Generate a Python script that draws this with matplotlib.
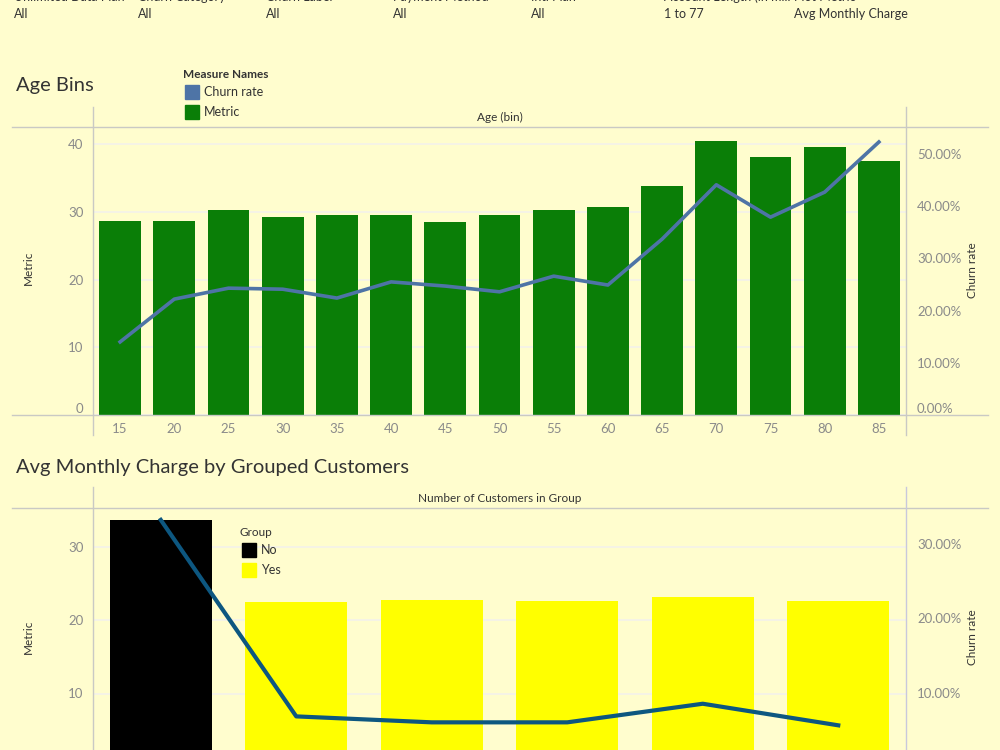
import matplotlib
matplotlib.use("Agg")
import matplotlib.pyplot as plt
from matplotlib.lines import Line2D
from matplotlib.patches import Rectangle
from matplotlib.ticker import FuncFormatter

plt.rcParams['font.family'] = ['Lato', 'DejaVu Sans']

# ---------------- data ----------------
filter_titles = ["Unlimited Data Plan", "Churn Category", "Churn Label", "Payment Method",
                 "Intl Plan", "Account Length (in m...", "Plot Metric"]
filter_values = ["All", "All", "All", "All", "All", "1 to 77", "Avg Monthly Charge"]

age_bins = ["15", "20", "25", "30", "35", "40", "45", "50", "55", "60", "65", "70", "75", "80", "85"]
age_metric = [28.7, 28.7, 30.3, 29.2, 29.5, 29.5, 28.5, 29.6, 30.3, 30.7, 33.8, 40.5, 38.1, 39.6, 37.5]
age_churn = [0.140, 0.222, 0.243, 0.241, 0.224, 0.255, 0.247, 0.236, 0.266, 0.249, 0.337, 0.441,
             0.379, 0.427, 0.523]

group_cats = ["1", "2", "3", "4", "5", "6"]
group_flag = ["No", "Yes", "Yes", "Yes", "Yes", "Yes"]
group_metric = [33.6, 22.4, 22.7, 22.6, 23.1, 22.6]
group_churn = [0.332, 0.068, 0.060, 0.060, 0.085, 0.056]

# ---------------- styling ----------------
BG = "#fffdce"
GREEN = "#0a7e07"
BLUE = "#4e74a6"
DARKBLUE = "#0d5780"
group_colors = {"No": "#000000", "Yes": "#ffff00"}
FRAME = "#c9c9c4"
GRID = "#f3f2ea"
TICKC = "#8a8a8a"
TEXTC = "#333333"

W, H = 1000, 750
fig = plt.figure(figsize=(10, 7.5), dpi=100, facecolor=BG)


def fx(x):
    return x / W


def fy(y):
    return 1 - y / H


def fline(x0, y0, x1, y1, color=FRAME, lw=1.0):
    fig.add_artist(Line2D([fx(x0), fx(x1)], [fy(y0), fy(y1)], transform=fig.transFigure,
                          color=color, lw=lw))


def ftext(x, y, s, **kw):
    fig.text(fx(x), fy(y), s, **kw)


# header filters (titles partly scrolled out of view, as in the reference)
xs = [14, 138, 266, 393, 531, 664, 794]
for x, t, v in zip(xs, filter_titles, filter_values):
    ftext(x, -3, t, fontsize=9, color=TEXTC, va='center', ha='left')
    ftext(x, 14, v, fontsize=9, color=TEXTC, va='center', ha='left')


def style_axes(ax, ax2, metric_max, churn_max, yticks, rticks, first_va_bottom=True):
    ax.set_facecolor('none')
    for s in ax.spines.values():
        s.set_visible(False)
    for s in ax2.spines.values():
        s.set_visible(False)
    ax.set_ylim(0, metric_max)
    ax2.set_ylim(0, churn_max)
    ax.set_yticks(yticks)
    ax2.set_yticks(rticks)
    ax2.yaxis.set_major_formatter(FuncFormatter(lambda v, p: f"{v*100:.2f}%"))
    ax.tick_params(axis='y', length=0, colors=TICKC, labelsize=9.5, pad=7)
    ax2.tick_params(axis='y', length=0, colors=TICKC, labelsize=9.5, pad=8)
    ax.tick_params(axis='x', length=0, colors=TICKC, labelsize=9.5, pad=6)
    ax.yaxis.grid(True, color=GRID, lw=1.2)
    ax.set_axisbelow(True)
    if first_va_bottom:
        fig.canvas.draw()
        ax.get_yticklabels()[0].set_va('bottom')
        ax2.get_yticklabels()[0].set_va('bottom')


# ---------------- top panel ----------------
top_y0, top_y1 = 127, 415
ax1 = fig.add_axes([fx(93), fy(top_y1), fx(906 - 93), (top_y1 - top_y0) / H])
x = range(len(age_bins))
ax1.bar(x, age_metric, width=0.77, color=GREEN, zorder=2)
ax1.set_xlim(-0.5, len(age_bins) - 0.5)
ax1.set_xticks(list(x))
ax1.set_xticklabels(age_bins)
ax1b = ax1.twinx()
ax1b.plot(list(x), age_churn, color=BLUE, lw=2.6, solid_joinstyle='round', zorder=3)
style_axes(ax1, ax1b, (top_y1 - top_y0) / 6.77, (top_y1 - top_y0) / 522.0,
           [0, 10, 20, 30, 40], [0, 0.1, 0.2, 0.3, 0.4, 0.5])

fline(12, 127, 988, 127)
fline(12, 415, 988, 415)
fline(93, 107, 93, 435)
fline(906, 107, 906, 435)
ftext(500, 117, "Age (bin)", fontsize=8.5, color=TEXTC, ha='center', va='center')
ftext(28, 268, "Metric", fontsize=8.5, color=TEXTC, ha='center', va='center', rotation=90)
ftext(972, 270, "Churn rate", fontsize=8.5, color=TEXTC, ha='center', va='center', rotation=90)
ftext(16, 85, "Age Bins", fontsize=14.5, color=TEXTC, ha='left', va='center')

# legend top
ftext(183, 74, "Measure Names", fontsize=8.5, color=TEXTC, ha='left', va='center', fontweight='bold')
for i, (lab, col) in enumerate([("Churn rate", BLUE), ("Metric", GREEN)]):
    yy = 92 + i * 20
    fig.add_artist(Rectangle((fx(185), fy(yy + 7)), 14 / W, 14 / H, transform=fig.transFigure,
                             color=col))
    ftext(204, yy, lab, fontsize=9, color=TEXTC, ha='left', va='center')

# ---------------- bottom panel ----------------
bot_y0, bot_y1 = 508, 767
ax2 = fig.add_axes([fx(93), fy(bot_y1), fx(906 - 93), (bot_y1 - bot_y0) / H])
xb = range(len(group_cats))
ax2.bar(list(xb), group_metric, width=0.75, color=[group_colors[g] for g in group_flag], zorder=2)
ax2.set_xlim(-0.5, len(group_cats) - 0.5)
ax2.set_xticks(list(xb))
ax2.set_xticklabels(group_cats)
ax2b = ax2.twinx()
ax2b.plot(list(xb), group_churn, color=DARKBLUE, lw=3, solid_joinstyle='round', zorder=3)
style_axes(ax2, ax2b, (bot_y1 - bot_y0) / 7.35, (769 - bot_y0) / 750.0,
           [10, 20, 30], [0.1, 0.2, 0.3], first_va_bottom=False)
# category labels sit below the visible (scrolled) area, as in the reference
ax2.tick_params(axis='x', labelbottom=False)

fline(12, 508, 988, 508)
fline(93, 487, 93, 752)
fline(906, 487, 906, 752, color="#c8c8dc")
ftext(500, 498, "Number of Customers in Group", fontsize=8.5, color=TEXTC, ha='center', va='center')
ftext(28, 637, "Metric", fontsize=8.5, color=TEXTC, ha='center', va='center', rotation=90)
ftext(972, 637, "Churn rate", fontsize=8.5, color=TEXTC, ha='center', va='center', rotation=90)
ftext(16, 467, "Avg Monthly Charge by Grouped Customers", fontsize=14.5, color=TEXTC,
      ha='left', va='center')

ftext(240, 533, "Group", fontsize=8.5, color=TEXTC, ha='left', va='center')
for i, lab in enumerate(["No", "Yes"]):
    yy = 550 + i * 20
    fig.add_artist(Rectangle((fx(242), fy(yy + 7)), 14 / W, 14 / H, transform=fig.transFigure,
                             color=group_colors[lab]))
    ftext(261, yy, lab, fontsize=9, color=TEXTC, ha='left', va='center')

fig.savefig("out.png", dpi=100, facecolor=BG)
